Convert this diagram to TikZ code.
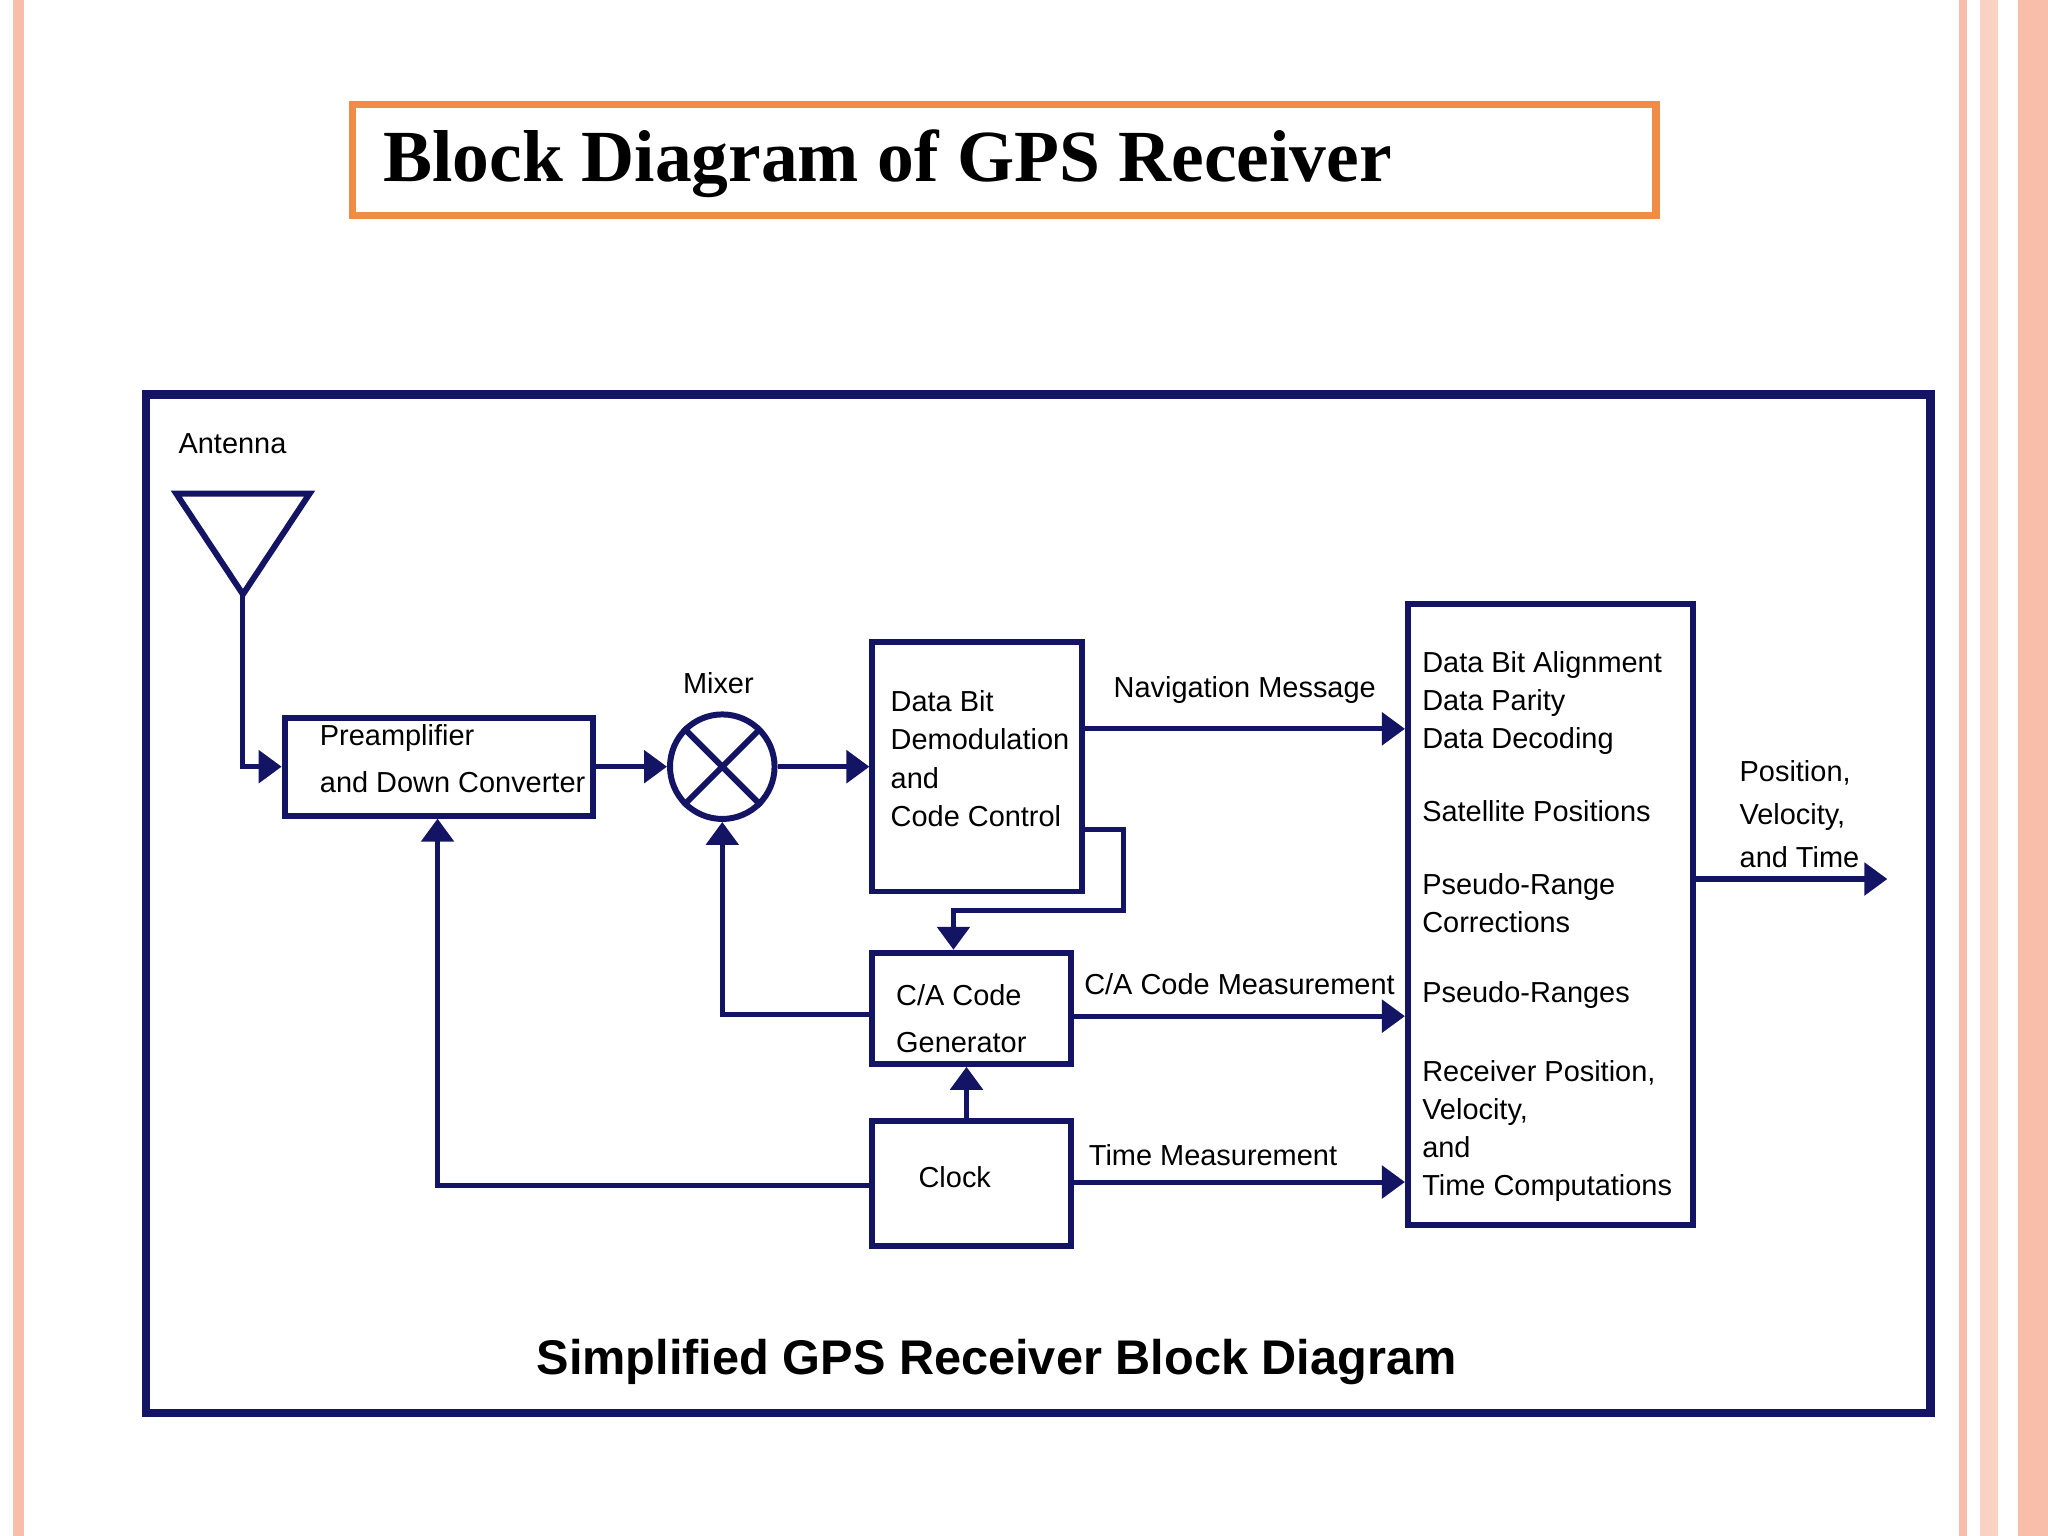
\documentclass[tikz,border=0pt]{standalone}
\usepackage{fontspec}
\setmainfont{Liberation Sans}
\newfontfamily\titlefont{Liberation Serif}
\usetikzlibrary{arrows.meta}
\definecolor{navy}{RGB}{20,20,100}
\definecolor{frameorange}{RGB}{240,140,70}
\definecolor{stripe}{RGB}{248,190,170}
\begin{document}
\begin{tikzpicture}[x=0.01cm, y=-0.01cm, line width=1.1pt, navy,
  blk/.style={draw=navy, line width=1.3pt},
  lbl/.style={text=black, font=\fontsize{6.3}{8.3}\selectfont, inner sep=0pt},
  arr/.style={-{Triangle[length=5pt,width=7pt]}}]
\useasboundingbox (0,0) rectangle (1568,1176);
\fill[white] (0,0) rectangle (1568,1176);
% page stripes
\fill[stripe] (10,0) rectangle (18,1176);
\fill[stripe] (1500,0) rectangle (1506,1176);
\fill[stripe!70] (1516,0) rectangle (1530,1176);
\fill[stripe] (1545,0) rectangle (1568,1176);
% title
\draw[frameorange, line width=1.6pt] (270,80) rectangle (1268,165);
\node[anchor=west, text=black, font=\titlefont\fontsize{16}{19}\selectfont\bfseries] (title) at (280,125) {Block Diagram of GPS Receiver};
% outer frame
\draw[blk, line width=1.8pt] (112,302) rectangle (1478,1082);

% antenna
\coordinate (ant) at (186,455);
\draw[blk] (135,378) -- (237,378) -- (ant) -- cycle;
\node[lbl] (antlbl) at (178,340) {Antenna};

% blocks
\node[blk, minimum width=2.36cm, minimum height=0.75cm] (pre) at (336,587) {};
\node[lbl, anchor=west, align=left] (pretxt) at (243,581) {Preamplifier\\[2pt]and Down Converter};
\node[blk, circle, minimum size=0.8cm, inner sep=0pt] (mix) at (553,587) {};
\draw[blk] (mix.north west) -- (mix.south east) (mix.north east) -- (mix.south west);
\node[lbl] (mixlbl) at (550,523) {Mixer};
\node[blk, minimum width=1.6cm, minimum height=1.91cm] (demod) at (748,587) {};
\node[lbl, anchor=north west, align=left] (demodtxt) at (680,527) {Data Bit\\Demodulation\\and\\Code Control};
\node[blk, minimum width=1.52cm, minimum height=0.85cm] (ca) at (744,772) {};
\node[lbl, align=left] (catxt) at (736,780) {C/A Code\\[2pt]Generator};
\node[blk, minimum width=1.52cm, minimum height=0.96cm] (clk) at (744,906) {};
\node[lbl] (clktxt) at (731,901) {Clock};
\node[blk, minimum width=2.18cm, minimum height=4.75cm] (proc) at (1187,700) {};
\node[lbl, anchor=north west, align=left] (p1) at (1087,497) {Data Bit Alignment\\Data Parity\\Data Decoding};
\node[lbl, anchor=west] (p2) at (1087,621) {Satellite Positions};
\node[lbl, anchor=north west, align=left] (p3) at (1087,667) {Pseudo-Range\\Corrections};
\node[lbl, anchor=west] (p4) at (1087,762) {Pseudo-Ranges};
\node[lbl, anchor=north west, align=left] (p5) at (1087,810) {Receiver Position,\\Velocity,\\and\\Time Computations};
\coordinate (out) at (1445,673);
\node[lbl, anchor=south west, align=left] (outtxt) at (1330,666) {Position,\\[1pt]Velocity,\\[1pt]and Time};

% connectors
\draw[arr] (ant) |- (pre.west);
\draw[arr] (pre) -- (mix);
\draw[arr] (mix) -- (demod);
\draw[arr] (demod.east |- 0,558) -- node[lbl, above=5pt] (navlbl) {Navigation Message} (proc.west |- 0,558);
\draw[arr] (demod.east |- 0,635) -| (860,697) -| (ca.north -| 730,0);
\draw[arr] (ca.east |- 0,778) -- node[lbl, above=4pt, pos=0.5] (camlbl) {C/A Code Measurement} (proc.west |- 0,778);
\draw[arr] (ca.west |- 0,777) -| (mix.south);
\draw[arr] (clk.north -| 740,0) -- (ca.south -| 740,0);
\draw[arr] (clk.east |- 0,905) -- node[lbl, above=3pt, pos=0.42] (tmlbl) {Time Measurement} (proc.west |- 0,905);
\draw[arr] (clk.west |- 0,908) -| (pre.south -| 335,0);
\draw[arr] (proc.east |- out) -- (out);

% caption
\node[text=black, font=\fontsize{10.6}{13}\selectfont\bfseries] (cap) at (763,1043) {Simplified GPS Receiver Block Diagram};
\end{tikzpicture}
\end{document}
